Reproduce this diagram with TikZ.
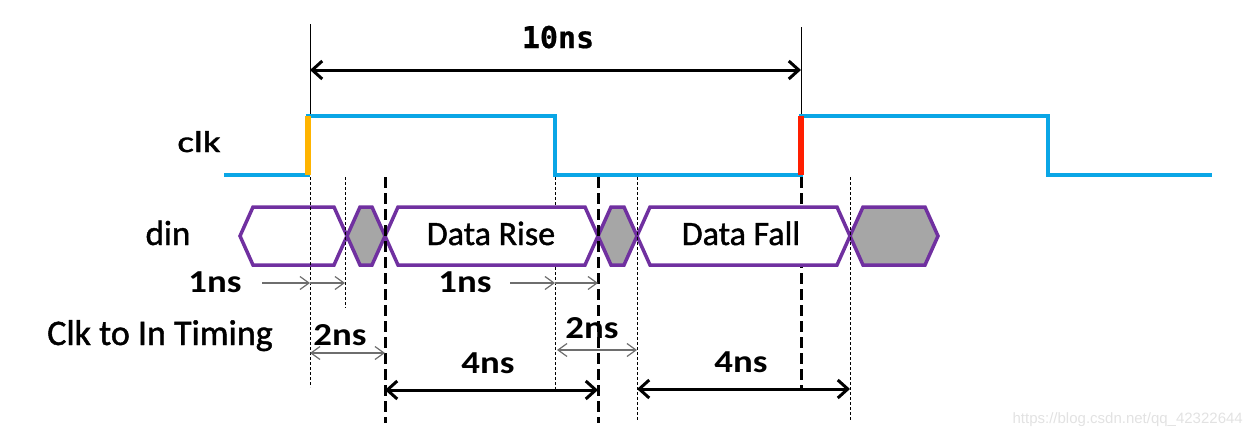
\documentclass[tikz,border=0pt]{standalone}
\usepackage{fontspec}
\setmainfont{Carlito}
\newfontfamily\labfnt[FakeBold=1.2]{Carlito}
\newfontfamily\monofnt[FakeBold=0.6]{DejaVu Sans Mono}
\newfontfamily\wmfnt{Liberation Sans}
\usetikzlibrary{arrows.meta}
\definecolor{clkblue}{HTML}{0AA6E6}
\definecolor{risecol}{HTML}{FFB400}
\definecolor{fallcol}{HTML}{FF1E00}
\definecolor{buspurple}{HTML}{7030A0}
\definecolor{busgray}{HTML}{A6A6A6}
\definecolor{dimgray}{HTML}{6E6E6E}
\definecolor{wmgray}{HTML}{E2E2E2}
\tikzset{
  clkline/.style={clkblue, line width=4pt, line join=miter},
  edgerise/.style={risecol, line width=6pt},
  edgefall/.style={fallcol, line width=6pt},
  busfree/.style={draw=buspurple, line width=3.5pt, fill=white, line join=miter},
  busx/.style={draw=buspurple, line width=3.5pt, fill=busgray, line join=miter},
  thindash/.style={black, line width=0.9pt, dash pattern=on 3pt off 2pt},
  thickdash/.style={black, line width=3pt, dash pattern=on 11pt off 5pt},
  refline/.style={black, line width=1pt},
  bigdim/.style={black, line width=3pt, {Straight Barb[length=10pt,width=18pt]}-{Straight Barb[length=10pt,width=18pt]}},
  smalldim/.style={dimgray, line width=1.2pt, -{Straight Barb[length=9pt,width=13pt]}},
  smalldimboth/.style={dimgray, line width=1.2pt, {Straight Barb[length=9pt,width=13pt]}-{Straight Barb[length=9pt,width=13pt]}},
  lbl/.style={font=\fontsize{36}{40}\selectfont\labfnt, inner sep=0pt, anchor=base},
  buslbl/.style={font=\fontsize{34}{38}\selectfont\labfnt, inner sep=0pt, anchor=base},
  numlbl/.style={font=\fontsize{32}{36}\selectfont\bfseries, inner sep=0pt, anchor=base, xscale=1.15},
  monolbl/.style={font=\fontsize{30}{34}\selectfont\monofnt\bfseries, inner sep=0pt, anchor=base},
}
\newcommand\hexbus[3]{%
  \path[#3] (#1,236) -- ({#1+13},207) -- ({#2-13},207) -- (#2,236) -- ({#2-13},265) -- ({#1+13},265) -- cycle;}
\begin{document}
\begin{tikzpicture}[x=1pt,y=-1pt]
\useasboundingbox (0,0) rectangle (1253,439);

% ---- clock waveform ----
\coordinate (c0) at (224,175);
\coordinate (c1) at (308,175);
\coordinate (c2) at (308,116);
\coordinate (c3) at (555,116);
\coordinate (c4) at (555,175);
\coordinate (c5) at (801,175);
\coordinate (c6) at (801,116);
\coordinate (c7) at (1048,116);
\coordinate (c8) at (1048,175);
\coordinate (c9) at (1212,175);
\draw[clkline] (c0) -- (c1) -- (c2) -- (c3) -- (c4) -- (c5) -- (c6) -- (c7) -- (c8) -- (c9);
\draw[edgerise] (c1) -- (c2);
\draw[edgefall] (c5) -- (c6);

% ---- period reference lines and 10ns ----
\coordinate (r1t) at (310,24);
\coordinate (r1b) at (310,114);
\coordinate (r2t) at (801,27);
\coordinate (r2b) at (801,114);
\draw[refline] (r1t) -- (r1b);
\draw[refline] (r2t) -- (r2b);
\coordinate (p1) at (310,70);
\coordinate (p2) at (801,70);
\draw[bigdim] (p1) -- (p2);
\node[monolbl] (tenns) at (558,48) {10ns};

% ---- guide lines hidden behind the bus ----
\coordinate (g555t) at (555,177);
\coordinate (g555b) at (555,390);
\coordinate (g800t) at (801,177);
\coordinate (g800b) at (801,389);
\draw[thindash] (g555t) -- (g555b);
\draw[thickdash] (g800t) -- (g800b);

% ---- din bus ----
\hexbus{240}{347}{busfree}
\hexbus{347}{385}{busx}
\hexbus{385}{598}{busfree}
\hexbus{598}{637}{busx}
\hexbus{637}{850}{busfree}
\hexbus{850}{938}{busx}
\node[buslbl] (rise) at (491,245) {Data Rise};
\node[buslbl] (fall) at (741,245) {Data Fall};

% ---- guide lines over the bus ----
\coordinate (g310t) at (310,177);
\coordinate (g310b) at (310,387);
\coordinate (g345t) at (345,177);
\coordinate (g345b) at (345,308);
\coordinate (g385t) at (385,177);
\coordinate (g385b) at (385,423);
\coordinate (g598t) at (598,177);
\coordinate (g598b) at (598,423);
\coordinate (g637t) at (637,177);
\coordinate (g637b) at (637,420);
\coordinate (g850t) at (850,177);
\coordinate (g850b) at (850,420);
\draw[thindash] (g310t) -- (g310b);
\draw[thindash] (g345t) -- (g345b);
\draw[thickdash] (g385t) -- (g385b);
\draw[thickdash] (g598t) -- (g598b);
\draw[thindash] (g637t) -- (g637b);
\draw[thindash] (g850t) -- (g850b);

% ---- labels ----
\node[lbl, font=\fontsize{30}{34}\selectfont\labfnt, xscale=1.3] (clklbl) at (199,152) {clk};
\node[lbl, font=\fontsize{35}{38}\selectfont\labfnt] (dinlbl) at (168,245) {din};
\node[lbl] (cti) at (160,345) {Clk to In Timing};

% ---- 1ns arrows ----
\coordinate (a1s) at (262,283);
\coordinate (a1m) at (310,283);
\coordinate (a1e) at (345,283);
\draw[smalldim] (a1s) -- (a1m);
\draw[smalldim] (a1m) -- (a1e);
\node[numlbl] (ns1a) at (215,292) {1ns};
\coordinate (a2s) at (510,283);
\coordinate (a2m) at (555,283);
\coordinate (a2e) at (598,283);
\draw[smalldim] (a2s) -- (a2m);
\draw[smalldim] (a2m) -- (a2e);
\node[numlbl] (ns1b) at (465,292) {1ns};

% ---- 2ns arrows ----
\coordinate (b1s) at (310,353);
\coordinate (b1e) at (385,353);
\draw[smalldimboth] (b1s) -- (b1e);
\node[numlbl] (ns2a) at (340,345) {2ns};
\coordinate (b2s) at (557,350);
\coordinate (b2e) at (637,350);
\draw[smalldimboth] (b2s) -- (b2e);
\node[numlbl] (ns2b) at (592,338) {2ns};

% ---- 4ns arrows ----
\coordinate (d1s) at (385,390);
\coordinate (d1e) at (598,390);
\draw[bigdim] (d1s) -- (d1e);
\node[numlbl] (ns4a) at (488,373) {4ns};
\coordinate (d2s) at (637,389);
\coordinate (d2e) at (850,389);
\draw[bigdim] (d2s) -- (d2e);
\node[numlbl] (ns4b) at (741,372) {4ns};

% ---- watermark ----
\node[font=\fontsize{15}{17}\selectfont\wmfnt, text=wmgray, inner sep=0pt, anchor=base east] (wm) at (1243,423) {https://blog.csdn.net/qq\_42322644};
\end{tikzpicture}
\end{document}
